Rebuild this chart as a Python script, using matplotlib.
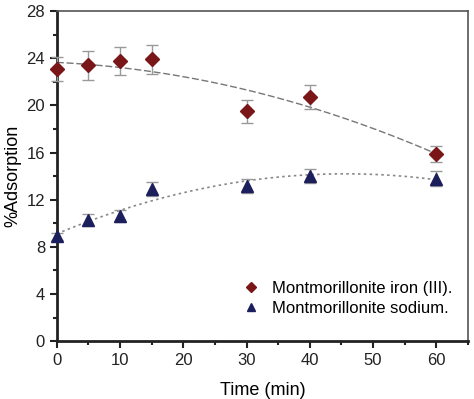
import numpy as np
import matplotlib
matplotlib.use('agg')
import matplotlib.pyplot as plt
from matplotlib.ticker import MultipleLocator

plt.rcParams['font.family'] = ['Liberation Sans', 'DejaVu Sans']

time = [0, 5, 10, 15, 30, 40, 60]
iron = [23.1, 23.4, 23.8, 23.9, 19.5, 20.7, 15.9]
iron_err = [1.0, 1.2, 1.2, 1.2, 1.0, 1.0, 0.7]
sodium = [8.9, 10.3, 10.6, 12.9, 13.2, 14.0, 13.8]
sodium_err = [0.3, 0.5, 0.5, 0.6, 0.6, 0.6, 0.6]

fig = plt.figure(figsize=(4.74, 3.99), dpi=100)
ax = fig.add_axes([0.12, 0.145, 0.867, 0.827])

# quadratic trend lines
xs = np.linspace(0, 60, 200)
p_iron = np.polyfit(time, iron, 2)
p_sod = np.polyfit(time, sodium, 2)
ax.plot(xs, np.polyval(p_iron, xs), color='#777777', lw=1.0, ls=(0, (5, 2)))
ax.plot(xs, np.polyval(p_sod, xs), color='#888888', lw=1.2, ls=(0, (1.5, 2)))

ax.errorbar(time, iron, yerr=iron_err, fmt='D', color='#7a1618', ms=7,
            ecolor='#999999', elinewidth=1, capsize=4, capthick=1,
            label='Montmorillonite iron (III).', clip_on=False, zorder=3)
ax.errorbar(time, sodium, yerr=sodium_err, fmt='^', color='#1b1f5c', ms=8,
            ecolor='#999999', elinewidth=1, capsize=4, capthick=1,
            label='Montmorillonite sodium.', clip_on=False, zorder=3)

ax.set_xlim(0, 65)
ax.set_ylim(0, 28)
ax.xaxis.set_major_locator(MultipleLocator(10))
ax.xaxis.set_minor_locator(MultipleLocator(5))
ax.yaxis.set_major_locator(MultipleLocator(4))
ax.yaxis.set_minor_locator(MultipleLocator(2))
ax.set_xticks([0, 10, 20, 30, 40, 50, 60])
ax.tick_params(which='both', direction='out', width=1.5, labelsize=12, colors='#222222')
ax.tick_params(which='major', length=5)
ax.tick_params(which='minor', length=3)

for s in ['left', 'bottom']:
    ax.spines[s].set_linewidth(2)
    ax.spines[s].set_color('#222222')
for s in ['right', 'top']:
    ax.spines[s].set_linewidth(1.2)
    ax.spines[s].set_color('#555555')

ax.set_xlabel('Time (min)', fontsize=13, labelpad=10)
ax.set_ylabel('%Adsorption', fontsize=13, labelpad=4)

handles, labels = ax.get_legend_handles_labels()
handles = [h[0] for h in handles]
ax.legend(handles, labels, loc='lower right', bbox_to_anchor=(1.0, 0.03),
          frameon=False, fontsize=12, handletextpad=0.3, labelspacing=0.3,
          markerscale=0.8)

fig.savefig('out.png', dpi=100)
